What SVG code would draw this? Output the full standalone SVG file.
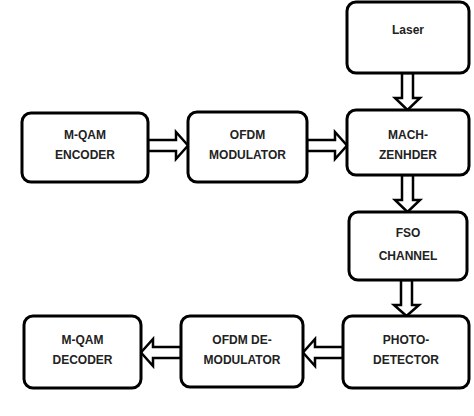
<svg xmlns="http://www.w3.org/2000/svg" width="474" height="416" viewBox="0 0 474 416">
<style>
.box{fill:#fff;stroke:#000;stroke-width:3}
.arr{fill:#fff;stroke:#000;stroke-width:2.5;stroke-linejoin:miter}
text{font-family:"Liberation Sans",Arial,sans-serif;font-weight:bold;font-size:12px;text-anchor:middle;fill:#222}
</style>
<rect width="474" height="416" fill="#fff"/>
<g id="connectors">
<polygon class="arr" points="402,73 413,73 413,98 420,98 407.5,110 395,98 402,98"/>
<polygon class="arr" points="402,175 413,175 413,200 420,200 407.5,212 395,200 402,200"/>
<polygon class="arr" points="401,280 412,280 412,305 419,305 406.5,316 394,305 401,305"/>
<polygon class="arr" points="148,140 176,140 176,132 188,145.5 176,159 176,151 148,151"/>
<polygon class="arr" points="307,140 335,140 335,132 347,145.5 335,159 335,151 307,151"/>
<polygon class="arr" points="343,347 315,347 315,339 303,352.5 315,366 315,358 343,358"/>
<polygon class="arr" points="181,347 153,347 153,339 141,352.5 153,366 153,358 181,358"/>
</g>
<g id="laser"><rect class="box" x="347" y="2" width="122" height="71" rx="9"/><text x="408" y="34">Laser</text></g>
<g id="mach"><rect class="box" x="347" y="110" width="122" height="65" rx="9"/><text x="408" y="139">MACH-</text><text x="408" y="159">ZENHDER</text></g>
<g id="fso"><rect class="box" x="349" y="212" width="118" height="68" rx="9"/><text x="408" y="237">FSO</text><text x="408" y="260">CHANNEL</text></g>
<g id="photo"><rect class="box" x="343" y="316" width="126" height="72" rx="9"/><text x="406" y="344">PHOTO-</text><text x="406" y="364">DETECTOR</text></g>
<g id="demod"><rect class="box" x="181" y="316" width="122" height="71" rx="9"/><text x="242" y="344">OFDM DE-</text><text x="242" y="364">MODULATOR</text></g>
<g id="decoder"><rect class="box" x="24" y="316" width="117" height="72" rx="9"/><text x="82.5" y="344">M-QAM</text><text x="82.5" y="364">DECODER</text></g>
<g id="encoder"><rect class="box" x="22" y="113" width="126" height="69" rx="9"/><text x="85" y="139">M-QAM</text><text x="85" y="159">ENCODER</text></g>
<g id="ofdm"><rect class="box" x="188" y="112" width="119" height="70" rx="9"/><text x="247.5" y="139">OFDM</text><text x="247.5" y="159">MODULATOR</text></g>
</svg>
